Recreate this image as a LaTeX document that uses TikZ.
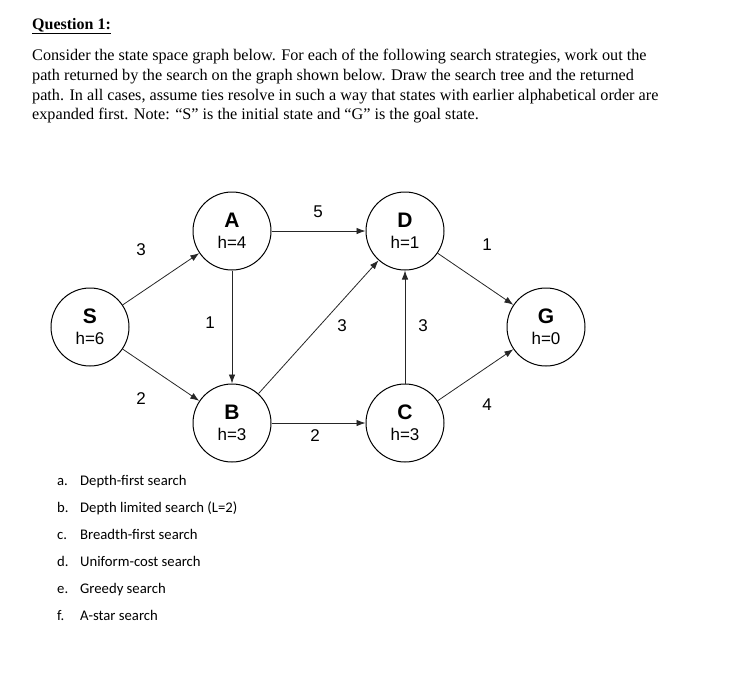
\documentclass[tikz,border=0pt]{standalone}
\usepackage{fontspec}
\setmainfont{Liberation Serif}
\newfontfamily\graphfont{Liberation Sans}
\newfontfamily\listfont{Carlito}
\usetikzlibrary{arrows.meta, positioning}

\begin{document}
\begin{tikzpicture}[x=1pt, y=-1pt,
    vertex/.style={draw, circle, line width=1pt, minimum size=78pt, inner sep=0pt, align=center,
      font=\graphfont\fontsize{17}{19}\selectfont},
    weight/.style={font=\graphfont\fontsize{17}{19}\selectfont},
    para/.style={anchor=base west, inner sep=0pt, font=\fontsize{16.2}{19}\selectfont},
    item/.style={anchor=base west, inner sep=0pt, font=\listfont\fontsize{14.7}{17}\selectfont},
    >={Latex[length=9pt, width=6.5pt]}]
                        \useasboundingbox (0, 0) rectangle (731, 686);
                        % heading and question
                        \node[para] (title) at (32, 29) {\fontsize{16}{19}\selectfont\textbf{\underline{Question 1:}}};
                        \node[para] (line1) at (32, 60) {Consider the state space graph below. For each of the following search strategies, work out the};
                        \node[para] (line2) at (32, 80) {path returned by the search on the graph shown below. Draw the search tree and the returned};
                        \node[para] (line3) at (32, 100) {path. In all cases, assume ties resolve in such a way that states with earlier alphabetical order are};
                        \node[para] (line4) at (32, 119) {expanded first. Note: ``S'' is the initial state and ``G'' is the goal state.};
                        % states
                        \node[vertex] (S) at (90, 327) {{\bfseries\fontsize{21}{23}\selectfont S}\\[2pt]h=6};
                        \node[vertex] (A) at (232, 231) {{\bfseries\fontsize{21}{23}\selectfont A}\\[2pt]h=4};
                        \node[vertex] (B) at (232, 423) {{\bfseries\fontsize{21}{23}\selectfont B}\\[2pt]h=3};
                        \node[vertex] (D) at (405, 231) {{\bfseries\fontsize{21}{23}\selectfont D}\\[2pt]h=1};
                        \node[vertex] (C) at (405, 423) {{\bfseries\fontsize{21}{23}\selectfont C}\\[2pt]h=3};
                        \node[vertex] (G) at (546, 327) {{\bfseries\fontsize{21}{23}\selectfont G}\\[2pt]h=0};
                        % edges
                        \draw[line width=0.8pt, black!85]
                        (S) edge[->] (A)
                        (S) edge[->] (B)
                        (A) edge[->] (B)
                        (A) edge[->] (D)
                        (B) edge[->] (D)
                        (B) edge[->] (C)
                        (C) edge[->] (D)
                        (D) edge[->] (G)
                        (C) edge[->] (G);
                        % costs
                        \node[weight] (wSA) at (141, 250) {3};
                        \node[weight] (wSB) at (141, 399) {2};
                        \node[weight] (wAB) at (210, 323) {1};
                        \node[weight] (wAD) at (318, 212) {5};
                        \node[weight] (wBD) at (342, 326) {3};
                        \node[weight] (wCD) at (423, 326) {3};
                        \node[weight] (wBC) at (315, 436) {2};
                        \node[weight] (wDG) at (487, 245) {1};
                        \node[weight] (wCG) at (487, 405) {4};
                        % strategies
                        \foreach \tag/\name [count=\i] in {a./Depth-first search, b./Depth limited search (L=2),
                          c./Breadth-first search, d./Uniform-cost search, e./Greedy search, f./A-star search}
                        {
                          \node[item] (tag\i) at (57, 458 + 27*\i) {\tag};
                          \node[item] (name\i) at (80, 458 + 27*\i) {\name};
                        }
\end{tikzpicture}
\end{document}
